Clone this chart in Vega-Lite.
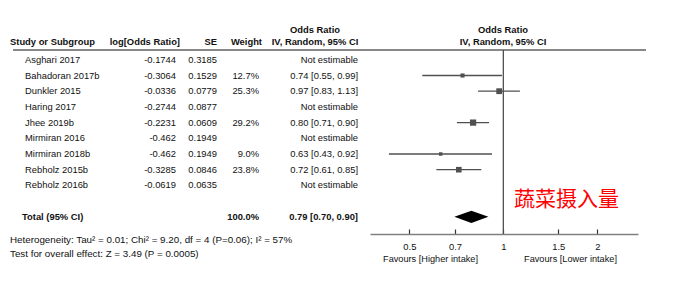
{
  "$schema": "https://vega.github.io/schema/vega-lite/v6.json",
  "width": 674,
  "height": 234,
  "autosize": {"type": "none"},
  "padding": {"left": 0, "top": 0, "right": 0, "bottom": 49},
  "background": "white",
  "config": {
    "view": {"stroke": null},
    "font": "Liberation Sans",
    "text": {"font": "Liberation Sans", "fontSize": 9.4, "color": "#111111", "baseline": "middle"}
  },
  "datasets": {
    "studies": [
      {"row": 1, "study": "Asghari 2017", "logor": "-0.1744", "se": "0.3185", "weight": null, "ci": "Not estimable", "or": null, "lo": null, "hi": null},
      {"row": 2, "study": "Bahadoran 2017b", "logor": "-0.3064", "se": "0.1529", "weight": 0.127, "ci": "0.74 [0.55, 0.99]", "or": 0.74, "lo": 0.55, "hi": 0.99},
      {"row": 3, "study": "Dunkler 2015", "logor": "-0.0336", "se": "0.0779", "weight": 0.253, "ci": "0.97 [0.83, 1.13]", "or": 0.97, "lo": 0.83, "hi": 1.13},
      {"row": 4, "study": "Haring 2017", "logor": "-0.2744", "se": "0.0877", "weight": null, "ci": "Not estimable", "or": null, "lo": null, "hi": null},
      {"row": 5, "study": "Jhee 2019b", "logor": "-0.2231", "se": "0.0609", "weight": 0.292, "ci": "0.80 [0.71, 0.90]", "or": 0.80, "lo": 0.71, "hi": 0.90},
      {"row": 6, "study": "Mirmiran 2016", "logor": "-0.462", "se": "0.1949", "weight": null, "ci": "Not estimable", "or": null, "lo": null, "hi": null},
      {"row": 7, "study": "Mirmiran 2018b", "logor": "-0.462", "se": "0.1949", "weight": 0.09, "ci": "0.63 [0.43, 0.92]", "or": 0.63, "lo": 0.43, "hi": 0.92},
      {"row": 8, "study": "Rebholz 2015b", "logor": "-0.3285", "se": "0.0846", "weight": 0.238, "ci": "0.72 [0.61, 0.85]", "or": 0.72, "lo": 0.61, "hi": 0.85},
      {"row": 9, "study": "Rebholz 2016b", "logor": "-0.0619", "se": "0.0635", "weight": null, "ci": "Not estimable", "or": null, "lo": null, "hi": null}
    ],
    "total": [
      {"row": 11, "study": "Total (95% CI)", "weight": 1.0, "ci": "0.79 [0.70, 0.90]", "or": 0.79, "lo": 0.70, "hi": 0.90}
    ],
    "header": [
      {"study": "Study or Subgroup", "logor": "log[Odds Ratio]", "se": "SE", "weight": "Weight", "or1": "Odds Ratio", "or2": "IV, Random, 95% CI"}
    ],
    "footer": [
      {"het": "Heterogeneity: Tau² = 0.01; Chi² = 9.20, df = 4 (P=0.06); I² = 57%", "test": "Test for overall effect: Z = 3.49 (P = 0.0005)", "favlo": "Favours [Higher intake]", "favhi": "Favours [Lower intake]", "note": "蔬菜摄入量"}
    ]
  },
  "layer": [
    {
      "data": {"name": "header"},
      "mark": {"type": "rule", "color": "#888888", "strokeWidth": 2},
      "encoding": {"x": {"value": 13}, "x2": {"value": 646}, "y": {"value": 50}}
    },
    {
      "data": {"name": "header"},
      "mark": {"type": "text", "fontWeight": "bold", "align": "left"},
      "encoding": {"text": {"field": "study"}, "x": {"value": 10}, "y": {"value": 42}}
    },
    {
      "data": {"name": "header"},
      "mark": {"type": "text", "fontWeight": "bold", "align": "right"},
      "encoding": {"text": {"field": "logor"}, "x": {"value": 180}, "y": {"value": 42}}
    },
    {
      "data": {"name": "header"},
      "mark": {"type": "text", "fontWeight": "bold", "align": "right"},
      "encoding": {"text": {"field": "se"}, "x": {"value": 217}, "y": {"value": 42}}
    },
    {
      "data": {"name": "header"},
      "mark": {"type": "text", "fontWeight": "bold", "align": "right"},
      "encoding": {"text": {"field": "weight"}, "x": {"value": 262}, "y": {"value": 42}}
    },
    {
      "data": {"name": "header"},
      "mark": {"type": "text", "fontWeight": "bold", "align": "center"},
      "encoding": {"text": {"field": "or1"}, "x": {"value": 315}, "y": {"value": 30}}
    },
    {
      "data": {"name": "header"},
      "mark": {"type": "text", "fontWeight": "bold", "align": "center"},
      "encoding": {"text": {"field": "or2"}, "x": {"value": 315}, "y": {"value": 42}}
    },
    {
      "data": {"name": "header"},
      "mark": {"type": "text", "fontWeight": "bold", "align": "center"},
      "encoding": {"text": {"field": "or1"}, "x": {"value": 503}, "y": {"value": 30}}
    },
    {
      "data": {"name": "header"},
      "mark": {"type": "text", "fontWeight": "bold", "align": "center"},
      "encoding": {"text": {"field": "or2"}, "x": {"value": 503}, "y": {"value": 42}}
    },
    {
      "data": {"name": "studies"},
      "mark": {"type": "text", "align": "left"},
      "encoding": {
        "text": {"field": "study", "type": "nominal"},
        "x": {"value": 25},
        "y": {"field": "row", "type": "quantitative", "scale": {"domain": [0, 12], "range": [44.1, 232.5]}, "axis": null}
      }
    },
    {
      "data": {"name": "studies"},
      "mark": {"type": "text", "align": "right"},
      "encoding": {
        "text": {"field": "logor", "type": "nominal"},
        "x": {"value": 176},
        "y": {"field": "row", "type": "quantitative", "axis": null}
      }
    },
    {
      "data": {"name": "studies"},
      "mark": {"type": "text", "align": "right"},
      "encoding": {
        "text": {"field": "se", "type": "nominal"},
        "x": {"value": 217},
        "y": {"field": "row", "type": "quantitative", "axis": null}
      }
    },
    {
      "data": {"name": "studies"},
      "transform": [{"filter": "datum.weight != null"}],
      "mark": {"type": "text", "align": "right"},
      "encoding": {
        "text": {"field": "weight", "type": "quantitative", "format": ".1%"},
        "x": {"value": 259},
        "y": {"field": "row", "type": "quantitative", "axis": null}
      }
    },
    {
      "data": {"name": "studies"},
      "mark": {"type": "text", "align": "right"},
      "encoding": {
        "text": {"field": "ci", "type": "nominal"},
        "x": {"value": 358},
        "y": {"field": "row", "type": "quantitative", "axis": null}
      }
    },
    {
      "data": {"name": "total"},
      "mark": {"type": "text", "align": "left", "fontWeight": "bold"},
      "encoding": {
        "text": {"field": "study", "type": "nominal"},
        "x": {"value": 22},
        "y": {"field": "row", "type": "quantitative", "axis": null}
      }
    },
    {
      "data": {"name": "total"},
      "mark": {"type": "text", "align": "right", "fontWeight": "bold"},
      "encoding": {
        "text": {"field": "weight", "type": "quantitative", "format": ".1%"},
        "x": {"value": 259},
        "y": {"field": "row", "type": "quantitative", "axis": null}
      }
    },
    {
      "data": {"name": "total"},
      "mark": {"type": "text", "align": "right", "fontWeight": "bold"},
      "encoding": {
        "text": {"field": "ci", "type": "nominal"},
        "x": {"value": 358},
        "y": {"field": "row", "type": "quantitative", "axis": null}
      }
    },
    {
      "data": {"name": "studies"},
      "transform": [{"filter": "datum.or != null"}],
      "mark": {"type": "rule", "color": "#505050", "strokeWidth": 1.3},
      "encoding": {
        "x": {
          "field": "lo", "type": "quantitative",
          "scale": {"type": "log", "domain": [0.374, 2.7], "range": [370, 638], "nice": false},
          "axis": {"values": [0.5, 0.7, 1, 1.5, 2], "format": "~g", "title": null, "grid": false,
                   "domainColor": "#808080", "domainWidth": 1.6, "tickColor": "#333333", "tickWidth": 1.2,
                   "tickSize": -5, "labelPadding": 13, "labelFont": "Liberation Sans", "labelFontSize": 9.4, "labelColor": "#111111"}
        },
        "x2": {"field": "hi"},
        "y": {"field": "row", "type": "quantitative", "axis": null}
      }
    },
    {
      "data": {"name": "studies"},
      "transform": [{"filter": "datum.or != null"}],
      "mark": {"type": "point", "shape": "square", "filled": true, "color": "#505050", "opacity": 1},
      "encoding": {
        "x": {"field": "or", "type": "quantitative"},
        "y": {"field": "row", "type": "quantitative", "axis": null},
        "size": {"field": "weight", "type": "quantitative", "scale": {"domain": [0, 0.3], "range": [0, 40]}, "legend": null}
      }
    },
    {
      "data": {"name": "total"},
      "mark": {"type": "point", "shape": "M-1,0L0,-0.36L1,0L0,0.36Z", "filled": true, "color": "#000000", "opacity": 1, "size": 1156},
      "encoding": {
        "x": {"field": "or", "type": "quantitative"},
        "y": {"field": "row", "type": "quantitative", "axis": null}
      }
    },
    {
      "data": {"name": "header"},
      "mark": {"type": "rule", "color": "#505050", "strokeWidth": 1.3},
      "encoding": {"x": {"datum": 1, "type": "quantitative"}, "y": {"value": 50}, "y2": {"value": 234}}
    },
    {
      "data": {"name": "footer"},
      "mark": {"type": "text", "align": "left", "fontSize": 9.8},
      "encoding": {"text": {"field": "het"}, "x": {"value": 10}, "y": {"value": 239.5}}
    },
    {
      "data": {"name": "footer"},
      "mark": {"type": "text", "align": "left", "fontSize": 9.8},
      "encoding": {"text": {"field": "test"}, "x": {"value": 10}, "y": {"value": 253.5}}
    },
    {
      "data": {"name": "footer"},
      "mark": {"type": "text", "align": "center", "fontSize": 9.2},
      "encoding": {"text": {"field": "favlo"}, "x": {"value": 430.5}, "y": {"value": 259}}
    },
    {
      "data": {"name": "footer"},
      "mark": {"type": "text", "align": "center", "fontSize": 9.2},
      "encoding": {"text": {"field": "favhi"}, "x": {"value": 570.5}, "y": {"value": 259}}
    },
    {
      "data": {"name": "footer"},
      "mark": {"type": "text", "align": "left", "font": "Noto Sans CJK SC", "fontSize": 21, "color": "#ff0000"},
      "encoding": {"text": {"field": "note"}, "x": {"value": 514}, "y": {"value": 200}}
    }
  ]
}
